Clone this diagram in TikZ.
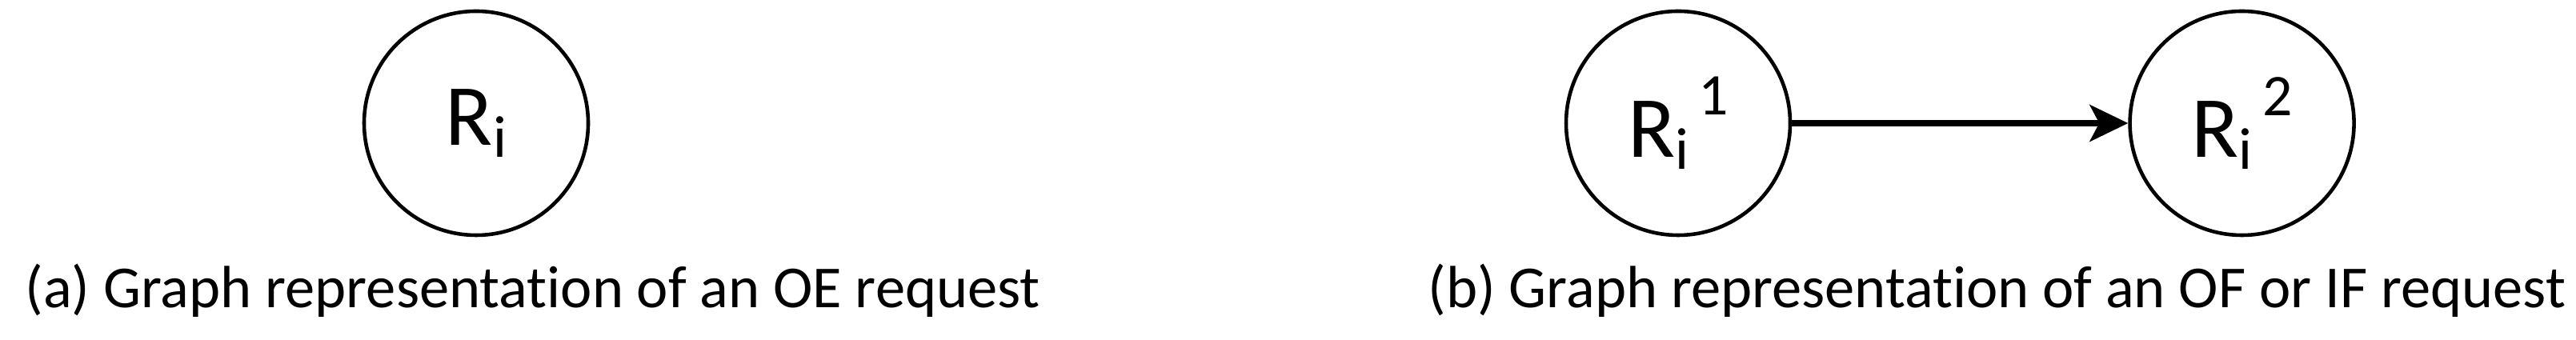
\documentclass[tikz,border=0pt]{standalone}
\usepackage{fontspec}
\setmainfont{Carlito}[Ligatures=NoCommon]
\usetikzlibrary{arrows.meta, positioning}
\tikzset{
    reqnode/.style={
        draw,
        circle,
        line width=1.3pt,
        minimum size=2.8cm,
        inner sep=0pt,
        font=\fontsize{31}{36}\selectfont,
    },
    caption/.style={
        anchor=base west,
        inner sep=0pt,
        font=\fontsize{21.2}{25}\selectfont,
    },
    flow/.style={
        line width=2pt,
        -{Stealth[length=4.8mm,width=4.6mm,inset=1.2mm]},
    }
}
\newcommand{\reqlabel}[1]{R\raisebox{-4.3pt}{\fontsize{21}{24}\selectfont i}\raisebox{15pt}{\fontsize{21}{24}\selectfont\,#1}}

\begin{document}
\begin{tikzpicture}

\useasboundingbox (0,0) rectangle (32.19,4.25);

% (a) OE request
\node[reqnode] (ri) at (5.95,2.71) {R\raisebox{-4.3pt}{\fontsize{21}{24}\selectfont i}};

% (b) OF or IF request
\node[reqnode] (ri1) at (20.97,2.71) {\reqlabel{1}};
\node[reqnode, right=4.2cm of ri1] (ri2) {\reqlabel{2}};

\draw[flow] (ri1) -- (ri2);

\node[caption] (capa) at (0.31,0.40) {(a) Graph representation of an OE request};
\node[caption] (capb) at (17.84,0.40) {(b) Graph representation of an OF or IF request};

\end{tikzpicture}
\end{document}
